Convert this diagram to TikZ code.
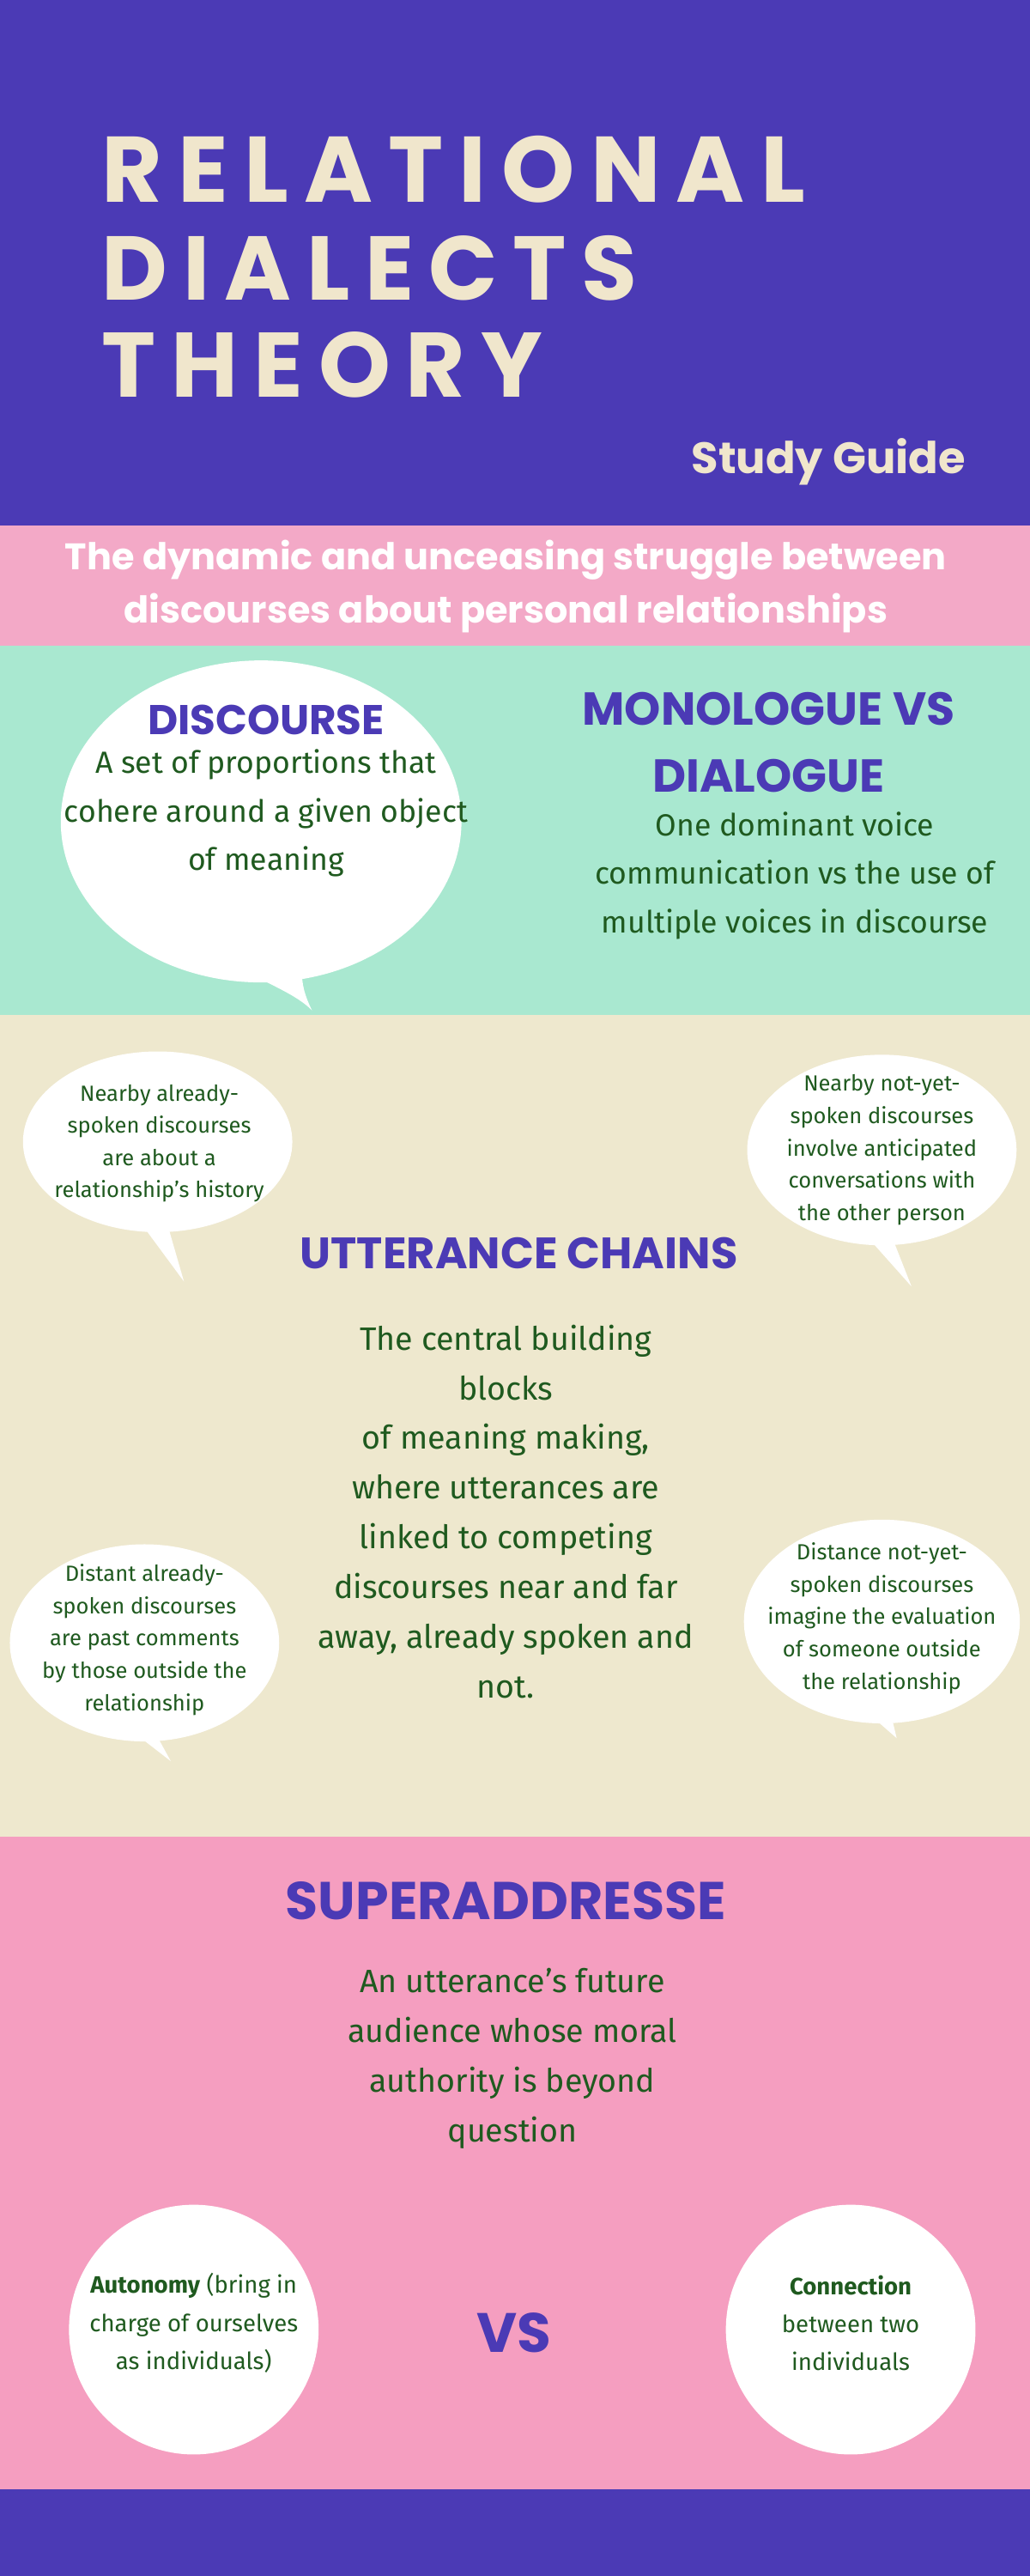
\documentclass[tikz,border=0pt]{standalone}
\usepackage{fontspec}
\setmainfont{Fira Sans}
\newfontfamily\headf{Poppins}
\usetikzlibrary{shapes.geometric}
\definecolor{purp}{HTML}{4B3AB5}
\definecolor{cream}{HTML}{F0E6CC}
\definecolor{pinkA}{HTML}{F3A9C7}
\definecolor{pinkB}{HTML}{F59EC0}
\definecolor{mint}{HTML}{A9E8D0}
\definecolor{beige}{HTML}{EEE8CE}
\definecolor{dgreen}{HTML}{1F5A1F}
\tikzset{
 ttl/.style={anchor=west,inner sep=0,text=cream,font=\headf\bfseries},
 hd/.style={text=purp,font=\headf\bfseries\fontsize{36}{44}\selectfont,inner sep=0},
 body/.style={text=dgreen,align=center,font=\fontsize{26.5}{42}\selectfont,inner sep=0},
 small/.style={text=dgreen,align=center,font=\fontsize{19}{28}\selectfont,inner sep=0},
 bub/.style={fill=white,draw=none}
}
\begin{document}
\begin{tikzpicture}[x=0.05cm,y=-0.05cm]
\useasboundingbox (0,0) rectangle (627,1568);
\fill[purp] (0,0) rectangle (627,320);
\fill[pinkA] (0,320) rectangle (627,393);
\fill[mint] (0,393) rectangle (627,618);
\fill[beige] (0,618) rectangle (627,1118);
\fill[pinkB] (0,1118) rectangle (627,1515);
\fill[purp] (0,1515) rectangle (627,1568);
% title
\node[ttl] (t1) at (62,103) {\resizebox{21.4cm}{!}{R\,E\,L\,A\,T\,I\,O\,N\,A\,L}};
\node[ttl] (t2) at (62,163) {\resizebox{16.3cm}{!}{D\,I\,A\,L\,E\,C\,T\,S}};
\node[ttl] (t3) at (62,222) {\resizebox{13.4cm}{!}{T\,H\,E\,O\,R\,Y}};
\node[text=cream,font=\headf\bfseries\fontsize{38}{44}\selectfont,anchor=east,inner sep=0] (sg) at (588,281) {Study Guide};
\node[text=white,align=center,font=\headf\bfseries\fontsize{32}{46}\selectfont,inner sep=0] (sub) at (308,357) {The dynamic and unceasing struggle between\\discourses about personal relationships};
% discourse bubble
\fill[white] (138,585) .. controls (165,600) and (180,605) .. (190,615) .. controls (185,605) and (182,595) .. (185,580) -- cycle;
\node[bub,ellipse,minimum width=244*0.05cm,minimum height=196*0.05cm] (db) at (159,500) {};
\node[hd] (dh) at (162,438) {DISCOURSE};
\node[body] (dt) at (162,495) {A set of proportions that\\cohere around a given object\\of meaning};
\node[hd,align=center,font=\headf\bfseries\fontsize{40}{58}\selectfont] (mh) at (468,452) {MONOLOGUE VS\\DIALOGUE};
\node[body] (mt) at (484,533) {One dominant voice\\communication vs the use of\\multiple voices in discourse};
% small bubbles
\foreach \n/\cx/\cy/\rx/\ry/\tx/\ty in {b1/96/695/82/55/112/780, b2/537/700/82/58/555/783, b3/88/1000/82/60/104/1072, b4/537/987/84/62/546/1058}{
  \fill[white] (\cx-15,\cy+\ry-12) -- (\tx,\ty) -- (\cx+5,\cy+\ry-8) -- cycle;
  \node[bub,ellipse,minimum width=2*\rx*0.05cm,minimum height=2*\ry*0.05cm] (\n) at (\cx,\cy) {};
}
\node[small] (s1) at (97,696) {Nearby already-\\spoken discourses\\are about a\\relationship's history};
\node[small] (s2) at (537,700) {Nearby not-yet-\\spoken discourses\\involve anticipated\\conversations with\\the other person};
\node[small] (s3) at (88,998) {Distant already-\\spoken discourses\\are past comments\\by those outside the\\relationship};
\node[small] (s4) at (537,985) {Distance not-yet-\\spoken discourses\\imagine the evaluation\\of someone outside\\the relationship};
\node[hd,font=\headf\bfseries\fontsize{38}{44}\selectfont] (uh) at (316,763) {UTTERANCE CHAINS};
\node[body,font=\fontsize{28}{43}\selectfont] (ut) at (308,920) {The central building\\blocks\\ of meaning making,\\where utterances are\\linked to competing\\discourses near and far\\away, already spoken and\\not.};
% superaddresse
\node[hd,font=\headf\bfseries\fontsize{46}{50}\selectfont] (sh) at (308,1157) {SUPERADDRESSE};
\node[body,font=\fontsize{28}{43}\selectfont] (st) at (312,1253) {An utterance's future\\audience whose moral\\authority is beyond\\question};
\node[bub,circle,minimum size=152*0.05cm] (c1) at (118,1418) {};
\node[bub,circle,minimum size=152*0.05cm] (c2) at (518,1418) {};
\node[small,font=\fontsize{20.5}{33}\selectfont] (ct1) at (118,1414) {\textbf{Autonomy} (bring in\\charge of ourselves\\as individuals)};
\node[small,font=\fontsize{20.5}{33}\selectfont] (ct2) at (518,1414) {\textbf{Connection}\\between two\\individuals};
\node[hd,font=\headf\bfseries\fontsize{48}{50}\selectfont] (vs) at (313,1420) {VS};
\end{tikzpicture}
\end{document}
